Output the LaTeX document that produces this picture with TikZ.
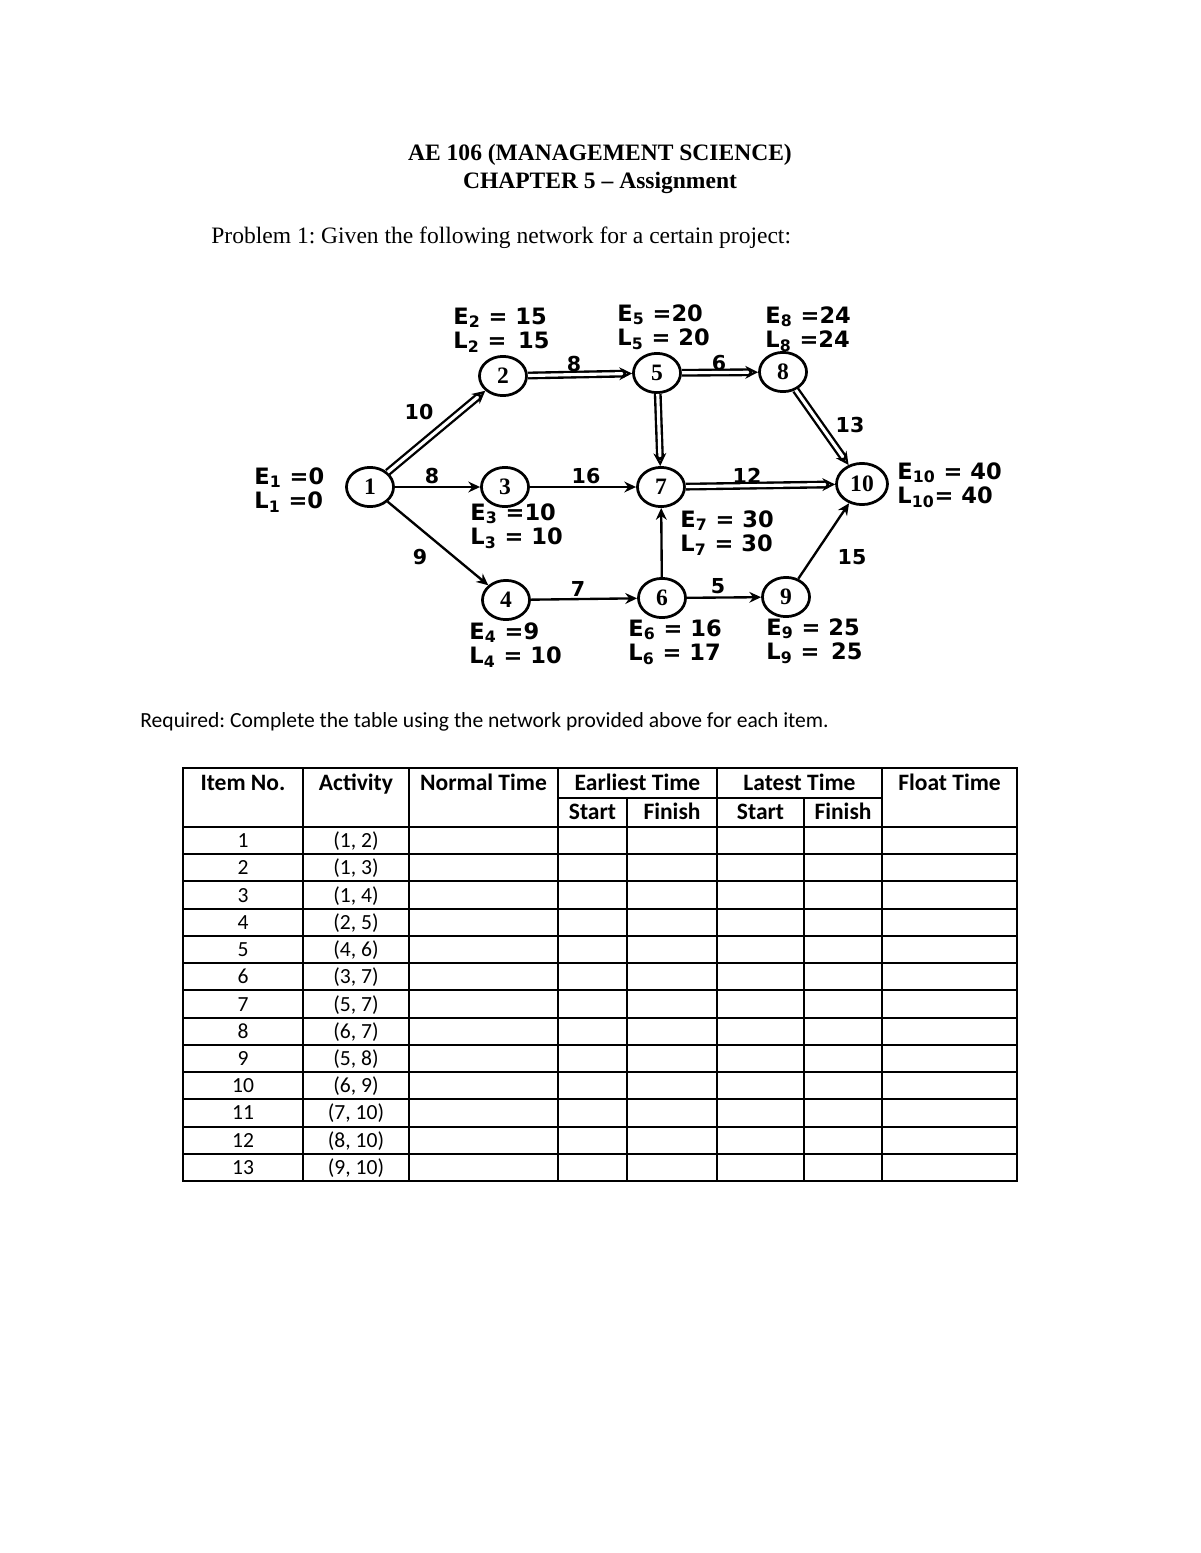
\documentclass[tikz,border=0pt]{standalone}
\usepackage{fontspec}
\setmainfont{Liberation Serif}
\newfontfamily\calfont{Carlito}
\newfontfamily\netfont{DejaVu Sans}
\newfontfamily\numfont{Liberation Serif}
\usetikzlibrary{arrows.meta,shapes.geometric}
\begin{document}
\frenchspacing
\begin{tikzpicture}[x=0.51pt,y=-0.51pt,
  ev/.style={draw, ellipse, line width=1.4pt, minimum width=24pt, minimum height=20pt, inner sep=0pt, font=\numfont\bfseries\fontsize{12}{14}\selectfont},
  ann/.style={anchor=west, align=left, font=\netfont\bfseries\fontsize{11.5}{12.6}\selectfont, inner sep=0pt},
  wt/.style={font=\netfont\bfseries\fontsize{10.5}{12}\selectfont, inner sep=0pt},
  single/.style={line width=1.2pt, -{Stealth[length=6pt,width=5.5pt]}},
  crit/.style={line width=1.2pt, double=white, double distance=1.6pt, -{Stealth[length=6.5pt,width=6.5pt,open]}},
  grid/.style={line width=1pt},
  th/.style={anchor=base, font=\calfont\bfseries\fontsize{12}{14}\selectfont, inner sep=0pt},
  td/.style={anchor=base, font=\calfont\fontsize{11}{13}\selectfont, inner sep=0pt}
]
\useasboundingbox (0,0) rectangle (1200,1553);
\fill[white] (0,0) rectangle (1200,1553);

% Title
\node[font=\bfseries\fontsize{12}{14}\selectfont] (t1) at (600,155) {AE 106 (MANAGEMENT SCIENCE)};
\node[font=\bfseries\fontsize{12}{14}\selectfont] (t2) at (600,183) {CHAPTER 5 -- Assignment};
\node[anchor=west, font=\fontsize{12}{14}\selectfont, inner sep=0pt] (prob) at (211,238) {Problem 1: Given the following network for a certain project:};

% Network nodes
\node[ev] (n1) at (370,487) {1};
\node[ev] (n2) at (503,376) {2};
\node[ev] (n3) at (505,487) {3};
\node[ev] (n4) at (506,600) {4};
\node[ev] (n5) at (657,373) {5};
\node[ev] (n6) at (662,598) {6};
\node[ev] (n7) at (661,487) {7};
\node[ev] (n8) at (783,372) {8};
\node[ev] (n9) at (786,597) {9};
\node[ev, minimum width=26pt, minimum height=21pt] (n10) at (862,484) {10};

% Edges
\draw[crit] (n1) -- (n2);
\draw[single] (n1) -- (n3);
\draw[single] (n1) -- (n4);
\draw[crit] (n2) -- (n5);
\draw[single] (n3) -- (n7);
\draw[single] (n4) -- (n6);
\draw[crit] (n5) -- (n7);
\draw[crit] (n5) -- (n8);
\draw[single] (n6) -- (n7);
\draw[single] (n6) -- (n9);
\draw[crit] (n7) -- (n10);
\draw[crit] (n8) -- (n10);
\draw[single] (n9) -- (n10);

% Edge weights
\node[wt] (w12) at (419,412) {10};
\node[wt] (w13) at (432,476) {8};
\node[wt] (w14) at (420,557) {9};
\node[wt] (w25) at (574,364) {8};
\node[wt] (w37) at (586,476) {16};
\node[wt] (w46) at (578,589) {7};
\node[wt] (w58) at (719,363) {6};
\node[wt] (w710) at (747,476) {12};
\node[wt] (w69) at (718,586) {5};
\node[wt] (w810) at (850,425) {13};
\node[wt] (w910) at (852,557) {15};

% Event times
\node[ann] (a1) at (254,490) {E\textsubscript{1} =0\\L\textsubscript{1} =0};
\node[ann] (a2) at (453,330) {E\textsubscript{2} = 15\\L\textsubscript{2} = \,15};
\node[ann] (a5) at (617,327) {E\textsubscript{5} =20\\L\textsubscript{5} = 20};
\node[ann] (a8) at (765,329) {E\textsubscript{8} =24\\L\textsubscript{8} =24};
\node[ann] (a10) at (897,485) {E\textsubscript{10} = 40\\L\textsubscript{10}= 40};
\node[ann] (a3) at (470,526) {E\textsubscript{3} =10\\L\textsubscript{3} = 10};
\node[ann] (a7) at (680,533) {E\textsubscript{7} = 30\\L\textsubscript{7} = 30};
\node[ann] (a4) at (469,645) {E\textsubscript{4} =9\\L\textsubscript{4} = 10};
\node[ann] (a6) at (628,642) {E\textsubscript{6} = 16\\L\textsubscript{6} = 17};
\node[ann] (a9) at (766,641) {E\textsubscript{9} = 25\\L\textsubscript{9} = \,25};

% Required line
\node[anchor=west, font=\calfont\fontsize{11}{13}\selectfont, inner sep=0pt] (req) at (140,722) {Required: Complete the table using the network provided above for each item.};

% Table grid
\draw[grid] (183,768) rectangle (1017,1181);
\foreach \x in {303,409,558,717,882} \draw[grid] (\x,768) -- (\x,1181);
\foreach \x in {627,804} \draw[grid] (\x,798) -- (\x,1181);
\draw[grid] (558,798) -- (882,798);
\foreach \i in {0,...,12} \draw[grid] (183,{827+27.23*\i}) -- (1017,{827+27.23*\i});

% Header text
\node[th] (h1) at (243,790) {Item No.};
\node[th] (h2) at (356,790) {Activity};
\node[th] (h3) at (483.5,790) {Normal Time};
\node[th] (h4) at (637.5,790) {Earliest Time};
\node[th] (h5) at (799.5,790) {Latest Time};
\node[th] (h6) at (949.5,790) {Float Time};
\node[th] (h7) at (592.5,819.5) {Start};
\node[th] (h8) at (672,819.5) {Finish};
\node[th] (h9) at (760.5,819.5) {Start};
\node[th] (h10) at (843,819.5) {Finish};

% Rows
\foreach \i/\a in {1/{(1, 2)},2/{(1, 3)},3/{(1, 4)},4/{(2, 5)},5/{(4, 6)},6/{(3, 7)},7/{(5, 7)},8/{(6, 7)},9/{(5, 8)},10/{(6, 9)},11/{(7, 10)},12/{(8, 10)},13/{(9, 10)}} {
  \node[td] (r\i) at (243,{827+27.23*(\i-0.5)+7}) {\i};
  \node[td] (ra\i) at (356,{827+27.23*(\i-0.5)+7}) {\a};
}
\end{tikzpicture}
\end{document}
